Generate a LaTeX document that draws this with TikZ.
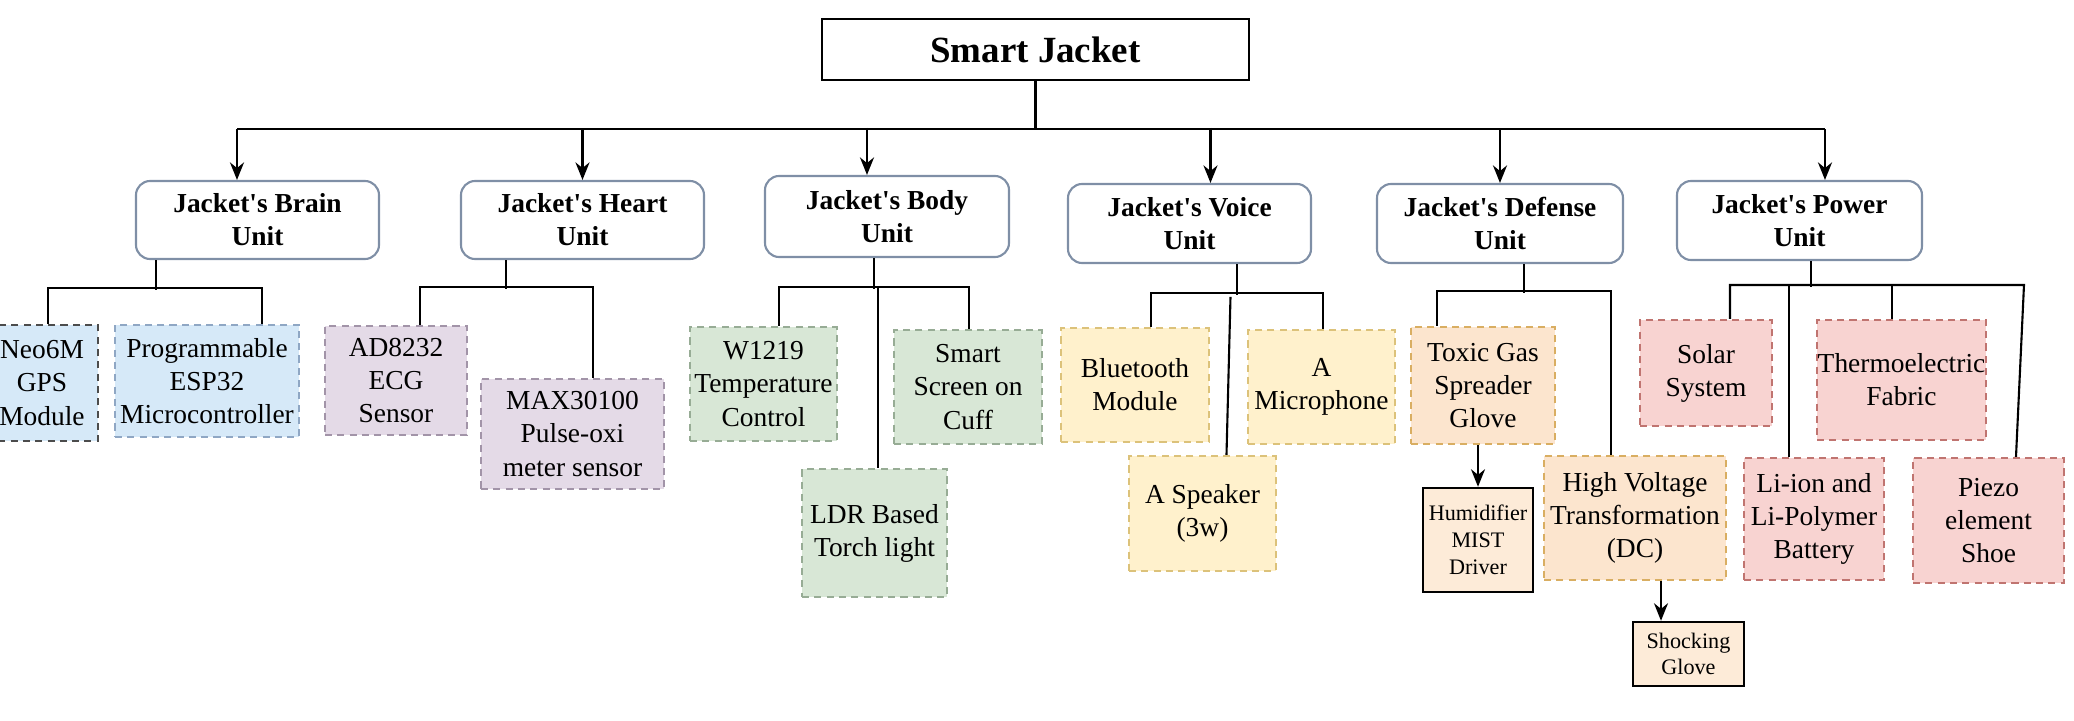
\documentclass[tikz,border=0pt]{standalone}
\usepackage{fontspec}
\setmainfont{Liberation Serif}
\usetikzlibrary{arrows.meta,calc}
\definecolor{unitline}{HTML}{7F8FA6}
\definecolor{bluef}{HTML}{D6E9F8}\definecolor{bluel}{HTML}{8FA7C4}
\definecolor{purf}{HTML}{E4DAE7}\definecolor{purl}{HTML}{A294A8}
\definecolor{grnf}{HTML}{D8E7D6}\definecolor{grnl}{HTML}{97AC95}
\definecolor{yelf}{HTML}{FFF1CC}\definecolor{yell}{HTML}{DCC27A}
\definecolor{orgf}{HTML}{FCE5CE}\definecolor{orgl}{HTML}{D9AE62}
\definecolor{pnkf}{HTML}{F8D3D1}\definecolor{pnkl}{HTML}{C07470}
\definecolor{smallf}{HTML}{FDEBD8}
\begin{document}
\begin{tikzpicture}[x=0.01cm,y=-0.01cm,
  sz/.style 2 args={minimum width={#1*0.01cm},minimum height={#2*0.01cm}},
  root/.style={draw,line width=0.7pt,inner sep=0pt,font=\fontsize{10.5}{12}\selectfont\bfseries},
  unit/.style={draw=unitline,line width=0.6pt,rounded corners=4pt,inner sep=0pt,align=center,font=\fontsize{7.8}{9.4}\selectfont\bfseries},
  leaf/.style={draw,dash pattern=on 2pt off 1.5pt,line width=0.6pt,inner sep=0pt,align=center,font=\fontsize{7.8}{9.4}\selectfont},
  small/.style={draw,line width=0.7pt,fill=smallf,inner sep=0pt,align=center,font=\fontsize{6.3}{7.6}\selectfont},
  link/.style={line width=0.6pt},
  arr/.style={line width=0.6pt,-{Stealth[length=5pt,width=4pt]}}]
\clip (0,0) rectangle (2074,721);

\node[root,sz={427}{61}] (root) at (1035.5,49.5) {Smart Jacket};

\node[unit,sz={243}{78}] (brain) at (257.5,220) {Jacket\textquotesingle s Brain\\Unit};
\node[unit,sz={243}{78}] (heart) at (582.5,220) {Jacket\textquotesingle s Heart\\Unit};
\node[unit,sz={244}{81}] (body) at (887,216.5) {Jacket\textquotesingle s Body\\Unit};
\node[unit,sz={243}{79}] (voice) at (1189.5,223.5) {Jacket\textquotesingle s Voice\\Unit};
\node[unit,sz={246}{79}] (defense) at (1500,223.5) {Jacket\textquotesingle s Defense\\Unit};
\node[unit,sz={245}{79}] (power) at (1799.5,220.5) {Jacket\textquotesingle s Power\\Unit};

\node[leaf,sz={112}{116},fill=bluef,draw=black!70] (neo) at (42,383) {Neo6M\\GPS\\Module};
\node[leaf,sz={184}{112},fill=bluef,draw=bluel] (prog) at (207,381) {Programmable\\ESP32\\Microcontroller};
\node[leaf,sz={142}{109},fill=purf,draw=purl] (ad) at (396,380.5) {AD8232\\ECG\\Sensor};
\node[leaf,sz={183}{110},fill=purf,draw=purl] (max) at (572.5,434) {MAX30100\\Pulse-oxi\\meter sensor};
\node[leaf,sz={147}{114},fill=grnf,draw=grnl] (w1219) at (763.5,384) {W1219\\Temperature\\Control};
\node[leaf,sz={148}{114},fill=grnf,draw=grnl] (screen) at (968,387) {Smart\\Screen on\\Cuff};
\node[leaf,sz={145}{128},fill=grnf,draw=grnl] (ldr) at (874.5,533) {LDR Based\\Torch light};
\node[leaf,sz={148}{114},fill=yelf,draw=yell] (bt) at (1135,385) {Bluetooth\\Module};
\node[leaf,sz={147}{114},fill=yelf,draw=yell] (mic) at (1321.5,387) {A\\Microphone};
\node[leaf,sz={147}{115},fill=yelf,draw=yell] (spk) at (1202.5,513.5) {A Speaker\\(3w)};
\node[leaf,sz={144}{117},fill=orgf,draw=orgl] (toxic) at (1483,385.5) {Toxic Gas\\Spreader\\Glove};
\node[small,sz={110}{104}] (hum) at (1478,540) {Humidifier\\MIST\\Driver};
\node[leaf,sz={182}{124},fill=orgf,draw=orgl] (hv) at (1635,518) {High Voltage\\Transformation\\(DC)};
\node[small,sz={111}{64}] (shock) at (1688.5,654) {Shocking\\Glove};
\node[leaf,sz={132}{106},fill=pnkf,draw=pnkl] (solar) at (1706,373) {Solar\\System};
\node[leaf,sz={169}{120},fill=pnkf,draw=pnkl] (thermo) at (1901.5,380) {Thermoelectric\\Fabric};
\node[leaf,sz={140}{122},fill=pnkf,draw=pnkl] (liion) at (1814,519) {Li-ion and\\Li-Polymer\\Battery};
\node[leaf,sz={151}{125},fill=pnkf,draw=pnkl] (piezo) at (1988.5,520.5) {Piezo\\element\\Shoe};

% root bus
\coordinate (busL) at (237,129);
\coordinate (busR) at (1825,129);
\draw[link] (busL) -- (busR);
\draw[link] (root.south) -- (root.south |- busL);
\draw[arr] (busL) -- (busL |- brain.north);
\draw[arr] (heart.north |- busL) -- (heart.north);
\draw[arr] ($(body.north)+(-20,-47)$) -- ++(0,47);
\draw[arr] ($(voice.north)+(21,-55)$) -- ++(0,55);
\draw[arr] (defense.north |- busL) -- (defense.north);
\draw[arr] (busR) -- (busR |- power.north);

% brain
\draw[link] ($(brain.south)+(-101.5,0)$) -- ++(0,30);
\draw[link] ($(neo.north)+(6,0)$) |- ($(prog.north)+(55,-36)$) -- ($(prog.north)+(55,0)$);
% heart
\draw[link] ($(heart.south)+(-76.5,0)$) -- ++(0,29);
\draw[link] ($(ad.north)+(24,0)$) |- ($(max.north)+(20.5,-91)$) -- ($(max.north)+(20.5,0)$);
% body
\draw[link] ($(body.south)+(-13,0)$) -- ++(0,31);
\draw[link] ($(w1219.north)+(15.5,0)$) |- ($(screen.north)+(1,-42)$) -- ($(screen.north)+(1,0)$);
\draw[link] ($(ldr.north)+(3.5,0)$) -- ++(0,-181);
% voice
\draw[link] ($(voice.south)+(47.5,0)$) -- ++(0,31);
\draw[link] ($(bt.north)+(16,0)$) |- ($(mic.north)+(1.5,-36)$) -- ($(mic.north)+(1.5,0)$);
\draw[link] ($(spk.north)+(24,0)$) -- ($(spk.north)+(28,-158)$);
% defense
\draw[link] ($(defense.south)+(24,0)$) -- ++(0,29);
\draw[link] ($(toxic.north)+(-46,0)$) |- ($(hv.north)+(-24,-164)$) -- ($(hv.north)+(-24,0)$);
\draw[arr] (toxic.south -| hum.north) -- (hum.north);
\draw[arr] ($(hv.south)+(26,0)$) -- ($(shock.north)+(-27.5,0)$);
% power
\draw[link] ($(power.south)+(11.5,0)$) -- ++(0,26);
\draw[link] ($(solar.north)+(24,0)$) |- ($(piezo.north)+(35.5,-172)$) -- ($(piezo.north)+(27.5,0)$);
\draw[link] ($(thermo.north)+(-9.5,0)$) -- ++(0,-34);
\draw[link] ($(liion.north)+(-25,0)$) -- ++(0,-172);
\end{tikzpicture}
\end{document}
